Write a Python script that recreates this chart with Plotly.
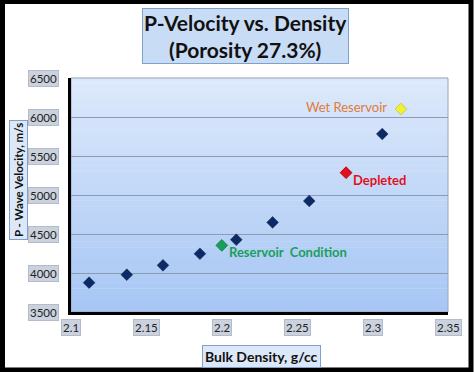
import plotly.graph_objects as go

# ---- data ----
density = [2.112, 2.137, 2.161, 2.1855, 2.2096, 2.2337, 2.258, 2.3064]
velocity = [3876, 3978, 4098, 4247, 4427, 4649, 4923, 5782]

special_names = ["Reservoir  Condition", "Depleted", "Wet Reservoir"]
special_density = [2.2, 2.2824, 2.3188]
special_velocity = [4354, 5286, 6103]

x_ticks = [2.1, 2.15, 2.2, 2.25, 2.3, 2.35]
x_ticklabels = ["2.1", "2.15", "2.2", "2.25", "2.3", "2.35"]
y_ticks = [3500, 4000, 4500, 5000, 5500, 6000, 6500]
y_ticklabels = ["3500", "4000", "4500", "5000", "5500", "6000", "6500"]

FONT = "Lato"
W, H = 474, 372
ML, MR, MT, MB = 71, 26, 78, 60
PW, PH = W - ML - MR, H - MT - MB


def px(x):
    return (x - ML) / PW


def py(y):
    return (H - MB - y) / PH


fig = go.Figure()

fig.add_trace(go.Scatter(
    x=density, y=velocity, mode="markers",
    marker=dict(symbol="diamond", size=9, color="#0c2a66",
                line=dict(color="#0a1f4d", width=0.5)),
    showlegend=False, hoverinfo="x+y"))

special_colors = ["#1a9e5c", "#e3101c", "#f2f22a"]
special_lines = ["#158a4e", "#c00010", "#c8c870"]
fig.add_trace(go.Scatter(
    x=special_density, y=special_velocity, mode="markers",
    marker=dict(symbol="diamond", size=9, color=special_colors,
                line=dict(color=special_lines, width=1)),
    showlegend=False, hoverinfo="x+y"))

shapes = []
# gradient plot background
n = 40
top = (221, 233, 251)
bot = (166, 198, 244)
for i in range(n):
    t = (i + 0.5) / n
    c = tuple(round(bot[k] + (top[k] - bot[k]) * t) for k in range(3))
    shapes.append(dict(type="rect", xref="x domain", yref="y domain",
                       x0=0, x1=1, y0=i / n, y1=(i + 1) / n + 0.002,
                       fillcolor="rgb(%d,%d,%d)" % c, line=dict(width=0),
                       layer="below"))
# plot area border (thin, gray)
shapes.append(dict(type="rect", xref="x domain", yref="y domain",
                   x0=0, x1=1, y0=0, y1=1, line=dict(color="#9aa6b8", width=1),
                   layer="below"))
# outer black frame
shapes.append(dict(type="rect", xref="paper", yref="paper",
                   x0=px(2.5), x1=px(471), y0=py(1.5), y1=py(370),
                   line=dict(color="black", width=5), fillcolor="rgba(0,0,0,0)"))

annotations = []
# title box
annotations.append(dict(
    xref="paper", yref="paper", x=px(245.5), y=py(36.5),
    xanchor="center", yanchor="middle", showarrow=False,
    text="<b>P-Velocity vs. Density<br>(Porosity 27.3%)</b>",
    font=dict(family=FONT, size=21, color="#111111"),
    bgcolor="#c9dcf6", bordercolor="#7f9fcc", borderwidth=1, borderpad=1))
# y axis title box
annotations.append(dict(
    xref="paper", yref="paper", x=px(18), y=py(180),
    xanchor="center", yanchor="middle", showarrow=False, textangle=-90,
    text="<b>P - Wave Velocity, m/s</b>",
    font=dict(family=FONT, size=11.5, color="#111111"),
    bgcolor="#dce8f8", bordercolor="#7f9fcc", borderwidth=1, borderpad=2))
# x axis title box
annotations.append(dict(
    xref="paper", yref="paper", x=px(261), y=py(356),
    xanchor="center", yanchor="middle", showarrow=False,
    text="<b>Bulk Density, g/cc</b>",
    font=dict(family=FONT, size=14, color="#111111"),
    bgcolor="#dce8f8", bordercolor="#7f9fcc", borderwidth=1, borderpad=2))

# boxed tick labels (from the tick lists, placed on the axes' scales)
box = dict(bgcolor="#cbd2de", bordercolor="#b3bccb", borderwidth=1, borderpad=1,
           showarrow=False, font=dict(family=FONT, size=11.5, color="#222222"))
for v, t in zip(y_ticks, y_ticklabels):
    annotations.append(dict(xref="paper", yref="y", x=px(59), y=v,
                            xanchor="right", yanchor="middle", text=t, **box))
for v, t in zip(x_ticks, x_ticklabels):
    annotations.append(dict(xref="x", yref="paper", x=v, y=py(327),
                            xanchor="center", yanchor="middle", text=t, **box))

# point labels
label_styles = [
    dict(color="#1a9e5c", bold=True, xanchor="left", xshift=5, yshift=-7),
    dict(color="#e3101c", bold=True, xanchor="left", xshift=5, yshift=-7),
    dict(color="#e07b39", bold=False, xanchor="right", xshift=-12, yshift=2),
]
for name, xv, yv, st in zip(special_names, special_density, special_velocity, label_styles):
    txt = name.replace("  ", "&nbsp; ")
    annotations.append(dict(
        x=xv, y=yv, xref="x", yref="y", showarrow=False,
        text=("<b>%s</b>" % txt) if st["bold"] else txt,
        xanchor=st["xanchor"], yanchor="middle",
        xshift=st["xshift"], yshift=st["yshift"],
        font=dict(family=FONT, size=13, color=st["color"])))

fig.update_layout(
    width=W, height=H,
    margin=dict(l=ML, r=MR, t=MT, b=MB),
    paper_bgcolor="white", plot_bgcolor="rgba(0,0,0,0)",
    font=dict(family=FONT, size=11, color="#222222"),
    showlegend=False,
    shapes=shapes, annotations=annotations,
    xaxis=dict(range=[2.1, 2.35], tickvals=x_ticks, showticklabels=False,
               showgrid=False, zeroline=False, showline=True,
               linecolor="black", linewidth=2.5, ticks=""),
    yaxis=dict(range=[3500, 6500], tickvals=y_ticks, showticklabels=False,
               showgrid=True, gridcolor="#8d9bb2", gridwidth=1,
               zeroline=False, showline=True,
               linecolor="black", linewidth=2.5, ticks=""),
)

fig.write_html("out.html", config={"displayModeBar": False},
               post_script="document.body.style.margin='0';document.body.style.overflow='hidden';")
